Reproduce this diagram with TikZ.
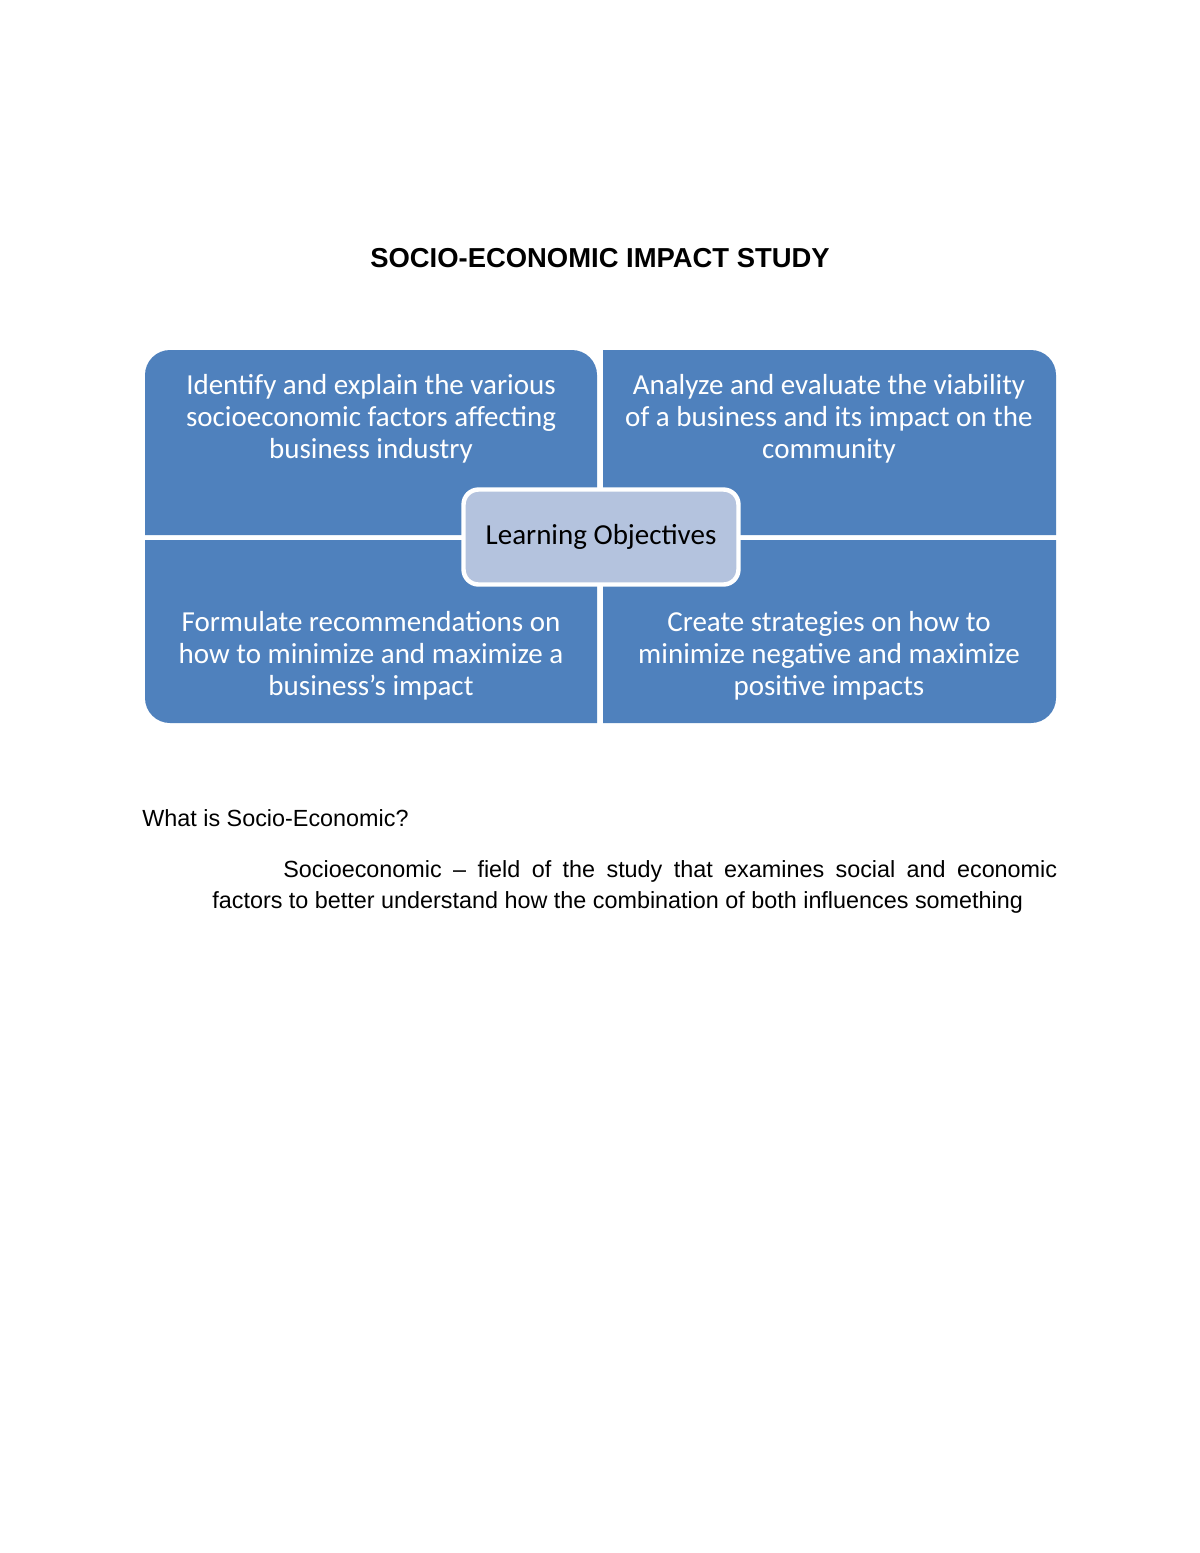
\documentclass[tikz,border=0pt]{standalone}
\usepackage{fontspec}
\setmainfont{Liberation Sans}
\newfontfamily\calfont{Carlito}
\definecolor{qblue}{HTML}{4F81BD}
\definecolor{cblue}{HTML}{B4C3DE}
\begin{document}
\begin{tikzpicture}[x=0.02cm,y=-0.02cm,
  qtext/.style={text=white,font=\calfont\fontsize{16.5}{18.2}\selectfont,align=center},
  body/.style={font=\fontsize{13.3}{16}\selectfont,anchor=base west,inner sep=0}]
\useasboundingbox (0,0) rectangle (1200,1553);
\fill[white] (0,0) rectangle (1200,1553);
\node[font=\bfseries\fontsize{15.6}{18}\selectfont] (title) at (600,258) {SOCIO-ECONOMIC IMPACT STUDY};
\fill[qblue] (145,535) [rounded corners=0.5cm] -- (145,350) -- (597,350) [sharp corners] -- (597,535) -- cycle;
\fill[qblue] (603,535) -- (603,350) [rounded corners=0.5cm] -- (1056,350) [sharp corners] -- (1056,535) -- cycle;
\fill[qblue] (145,540) [rounded corners=0.5cm] -- (145,723) [sharp corners] -- (597,723) -- (597,540) -- cycle;
\fill[qblue] (603,540) -- (603,723) [rounded corners=0.5cm] -- (1056,723) [sharp corners] -- (1056,540) -- cycle;
\node[qtext] (q1) at (371,419) {Identify and explain the various\\socioeconomic factors affecting\\business industry};
\node[qtext] (q2) at (829,419) {Analyze and evaluate the viability\\of a business and its impact on the\\community};
\node[qtext] (q3) at (371,656) {Formulate recommendations on\\how to minimize and maximize a\\business’s impact};
\node[qtext] (q4) at (829,656) {Create strategies on how to\\minimize negative and maximize\\positive impacts};
\node[draw=white,line width=2.5pt,fill=cblue,rounded corners=0.3cm,minimum width=5.5cm,minimum height=1.9cm,font=\calfont\fontsize{16.5}{18}\selectfont] (center) at (601,537) {Learning Objectives};
\node[body] (q) at (142,826) {What is Socio-Economic?};
\node[body] (p1) at (283,877) {\makebox[15.48cm][s]{Socioeconomic – field of the study that examines social and economic}};
\node[body] (p2) at (212,908) {factors to better understand how the combination of both influences something};
\end{tikzpicture}
\end{document}
